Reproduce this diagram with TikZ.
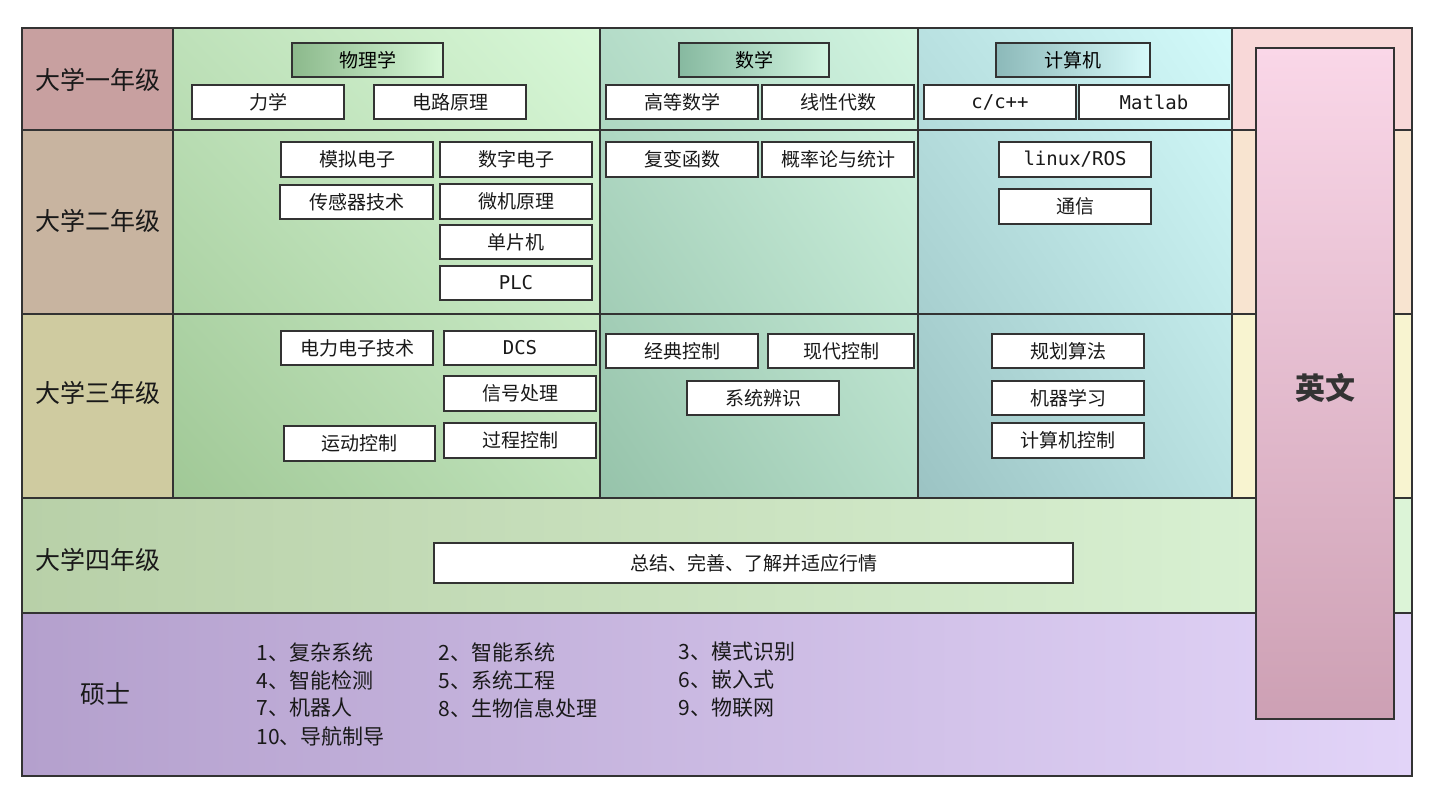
\documentclass[tikz,border=0pt]{standalone}
\usepackage{fontspec}
\usetikzlibrary{shadings}
\setmainfont{Noto Sans CJK SC}
\newfontfamily\mono{DejaVu Sans Mono}
\definecolor{gA}{RGB}{160,200,150}\definecolor{gB}{RGB}{216,248,216}\definecolor{gC}{RGB}{190,225,185}
\definecolor{mA}{RGB}{150,195,170}\definecolor{mB}{RGB}{210,245,225}\definecolor{mC}{RGB}{180,220,200}
\definecolor{cA}{RGB}{155,195,195}\definecolor{cB}{RGB}{210,250,250}\definecolor{cC}{RGB}{185,225,225}
\definecolor{y1c}{RGB}{200,160,160}\definecolor{y2c}{RGB}{200,180,160}\definecolor{y3c}{RGB}{207,203,160}
\definecolor{r1}{RGB}{248,216,216}\definecolor{r2}{RGB}{248,228,208}\definecolor{r3}{RGB}{248,244,208}
\definecolor{f1}{RGB}{184,208,168}\definecolor{f2}{RGB}{220,244,215}
\definecolor{p1}{RGB}{180,160,205}\definecolor{p2}{RGB}{226,212,248}
\definecolor{h1}{RGB}{140,185,140}\definecolor{h2}{RGB}{215,248,215}
\definecolor{h3}{RGB}{135,185,160}\definecolor{h4}{RGB}{210,245,225}
\definecolor{h5}{RGB}{140,185,185}\definecolor{h6}{RGB}{215,250,250}
\definecolor{e1c}{RGB}{250,215,232}\definecolor{e2c}{RGB}{205,160,180}
\begin{document}
\begin{tikzpicture}[x=0.5pt,y=-0.5pt,
  cell/.style={draw=black!80,line width=1pt},
  box/.style={draw=black!80,line width=1pt,fill=white,anchor=north west,inner sep=0pt,font=\fontsize{9.5}{10}\selectfont,text=black!90},
  lbl/.style={font=\fontsize{12.5}{13}\selectfont,text=black!90},
  item/.style={font=\fontsize{10.5}{12}\selectfont,anchor=west,text=black!90,inner sep=0pt}]
\useasboundingbox (0,0) rectangle (1440,796);
\fill[white] (0,0) rectangle (1440,796);
% label column
\fill[y1c] (22,28) rectangle (173,130);
\fill[y2c] (22,130) rectangle (173,314);
\fill[y3c] (22,314) rectangle (173,498);
% columns
\shade[lower left=gA,upper right=gB,lower right=gC,upper left=gC] (173,28) rectangle (600,498);
\shade[lower left=mA,upper right=mB,lower right=mC,upper left=mC] (600,28) rectangle (918,498);
\shade[lower left=cA,upper right=cB,lower right=cC,upper left=cC] (918,28) rectangle (1232,498);
\fill[r1] (1232,28) rectangle (1412,130);
\fill[r2] (1232,130) rectangle (1412,314);
\fill[r3] (1232,314) rectangle (1412,498);
\shade[left color=f1,right color=f2] (22,498) rectangle (1412,613);
\shade[left color=p1,right color=p2] (22,613) rectangle (1412,776);
% grid
\draw[cell] (22,28) rectangle (1412,776);
\foreach \yy in {130,314,498,613} \draw[cell] (22,\yy) -- (1412,\yy);
\foreach \xx in {173,600,918,1232} \draw[cell] (\xx,28) -- (\xx,498);
% labels
\node[lbl] (y1) at (98,80) {大学一年级};
\node[lbl] (y2) at (98,221) {大学二年级};
\node[lbl] (y3) at (98,393) {大学三年级};
\node[lbl] (y4) at (98,560) {大学四年级};
\node[lbl] (ms) at (105,694) {硕士};
% headers
\shade[left color=h1,right color=h2,draw=black!80,line width=1pt] (292,43) rectangle (443,77);
\node[font=\fontsize{9.5}{10}\selectfont] (wl) at (367.5,60) {物理学};
\shade[left color=h3,right color=h4,draw=black!80,line width=1pt] (679,43) rectangle (829,77);
\node[font=\fontsize{9.5}{10}\selectfont] (sx) at (754,60) {数学};
\shade[left color=h5,right color=h6,draw=black!80,line width=1pt] (996,43) rectangle (1150,77);
\node[font=\fontsize{9.5}{10}\selectfont] (jsj) at (1073,60) {计算机};
% boxes
\newcommand\bx[6]{\node[box,minimum width={(#3-#1)*0.5pt},minimum height={(#4-#2)*0.5pt}] (#5) at (#1,#2) {#6};}
\bx{191}{84}{343}{118}{b1}{力学}
\bx{373}{84}{525}{118}{b2}{电路原理}
\bx{605}{84}{757}{118}{b3}{高等数学}
\bx{761}{84}{913}{118}{b4}{线性代数}
\bx{923}{84}{1075}{118}{b5}{\mono c/c++}
\bx{1078}{84}{1228}{118}{b6}{\mono Matlab}
\bx{280}{141}{432}{176}{c1}{模拟电子}
\bx{439}{141}{591}{176}{c2}{数字电子}
\bx{279}{184}{432}{218}{c3}{传感器技术}
\bx{439}{183}{591}{218}{c4}{微机原理}
\bx{439}{224}{591}{258}{c5}{单片机}
\bx{439}{265}{591}{299}{c6}{\mono PLC}
\bx{605}{141}{757}{176}{c7}{复变函数}
\bx{761}{141}{913}{176}{c8}{概率论与统计}
\bx{998}{141}{1150}{176}{c9}{\mono linux/ROS}
\bx{998}{188}{1150}{223}{c10}{通信}
\bx{280}{330}{432}{364}{d1}{电力电子技术}
\bx{443}{330}{595}{364}{d2}{\mono DCS}
\bx{443}{375}{595}{410}{d3}{信号处理}
\bx{283}{425}{434}{460}{d4}{运动控制}
\bx{443}{422}{595}{457}{d5}{过程控制}
\bx{605}{333}{757}{367}{d6}{经典控制}
\bx{767}{333}{913}{367}{d7}{现代控制}
\bx{686}{380}{838}{414}{d8}{系统辨识}
\bx{991}{333}{1143}{367}{d9}{规划算法}
\bx{991}{380}{1143}{414}{d10}{机器学习}
\bx{991}{422}{1143}{457}{d11}{计算机控制}
\bx{433}{542}{1072}{582}{e1}{总结、完善、了解并适应行情}
% English
\shade[top color=e1c,bottom color=e2c,draw=black!80,line width=1pt] (1256,48) rectangle (1394,719);
\node[font=\fontsize{15}{16}\selectfont\bfseries,text=black!80] (en) at (1325,388) {英文};
% master list
\node[item] (m1) at (256,652) {1、复杂系统};
\node[item] (m2) at (438,652) {2、智能系统};
\node[item] (m3) at (678,652) {3、模式识别};
\node[item] (m4) at (256,680) {4、智能检测};
\node[item] (m5) at (438,680) {5、系统工程};
\node[item] (m6) at (678,680) {6、嵌入式};
\node[item] (m7) at (256,708) {7、机器人};
\node[item] (m8) at (438,708) {8、生物信息处理};
\node[item] (m9) at (678,708) {9、物联网};
\node[item] (m10) at (256,736) {10、导航制导};
\end{tikzpicture}
\end{document}
